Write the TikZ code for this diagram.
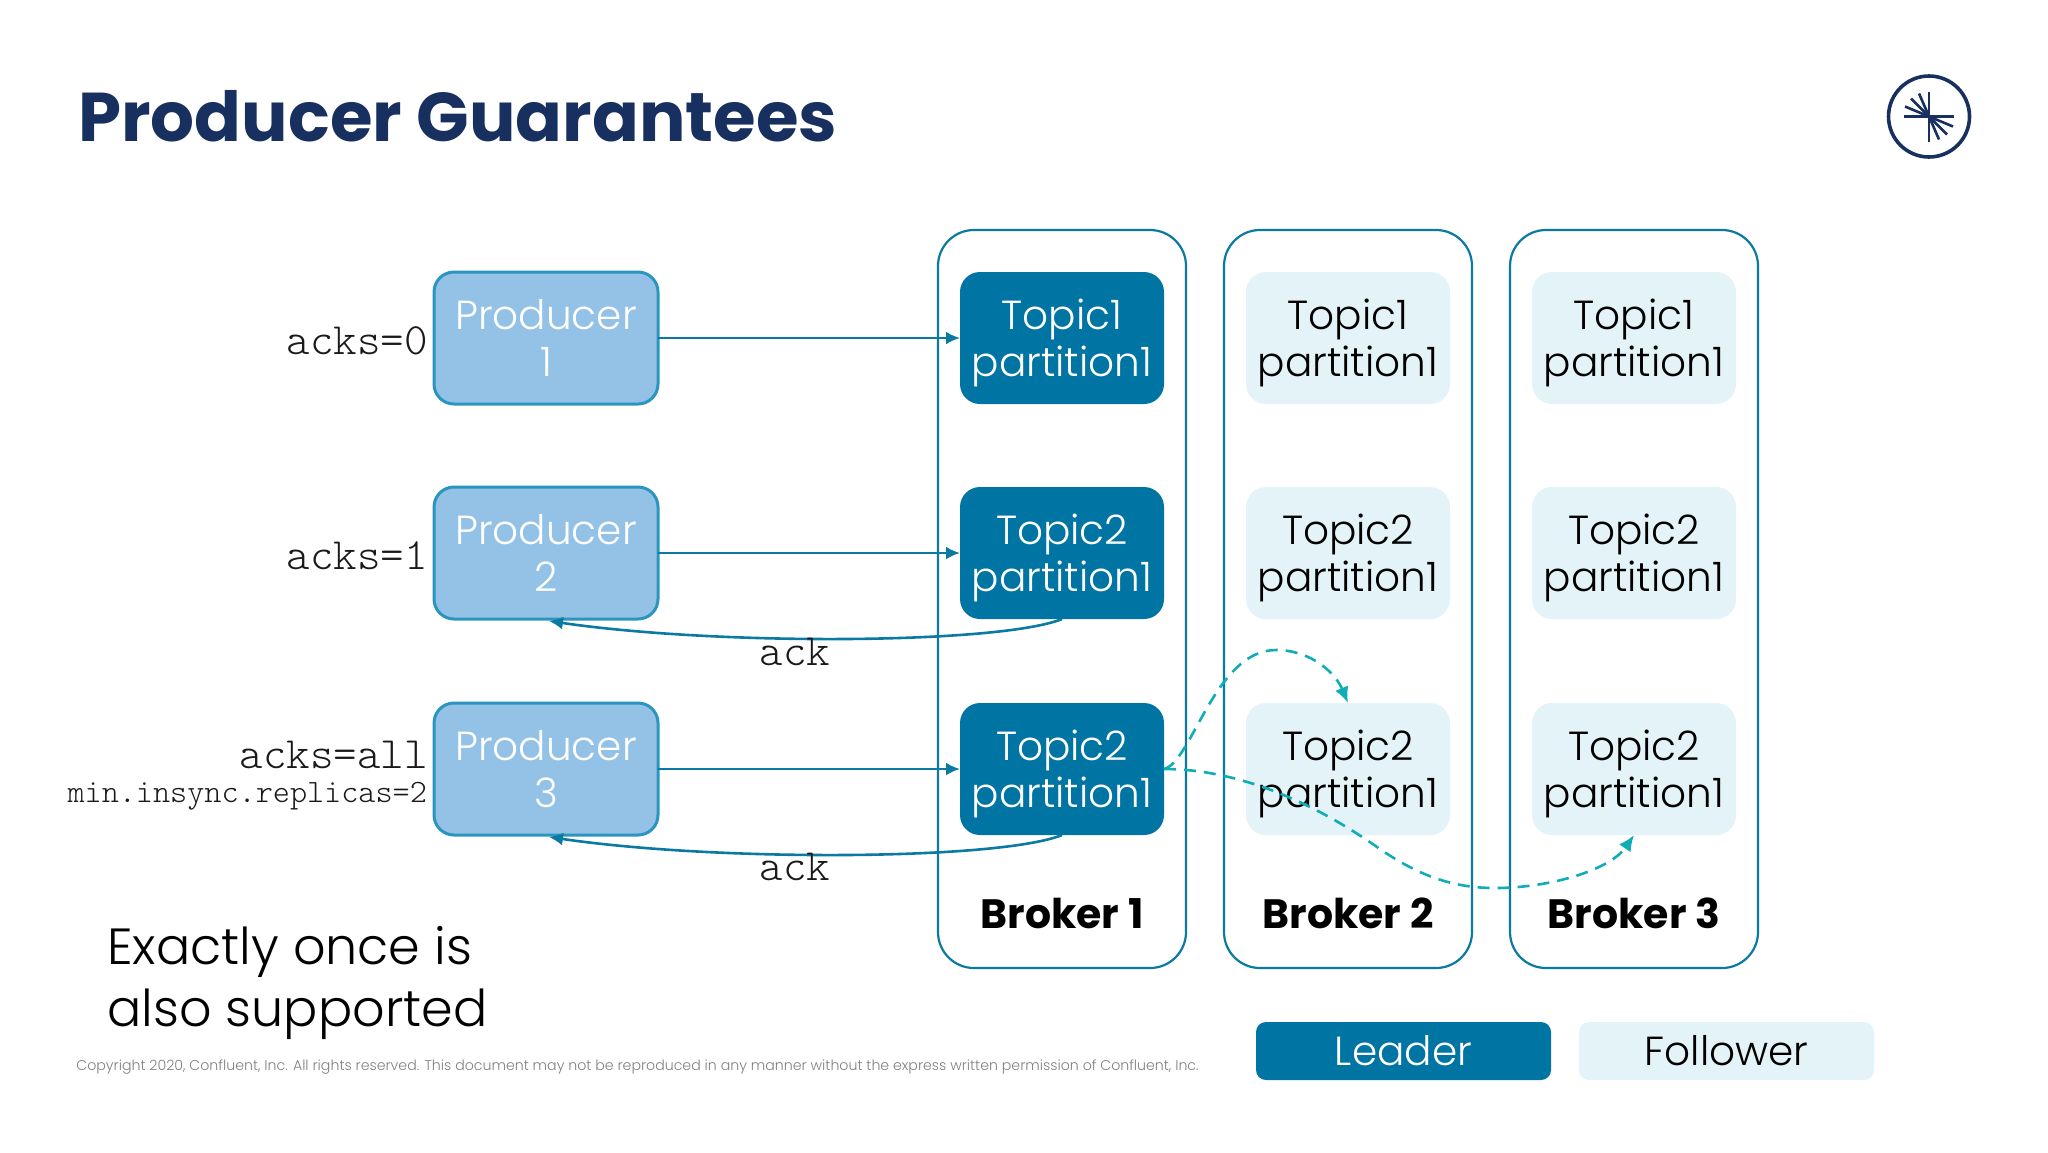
\documentclass[tikz,border=0pt]{standalone}
\usepackage{fontspec}
\setmainfont{Poppins Light}
\newfontfamily\boldfont{Poppins Bold}
\newfontfamily\conffont{Latin Modern Mono Light}
\usetikzlibrary{arrows.meta}
\definecolor{navy}{HTML}{17305F}
\definecolor{leader}{HTML}{0074A2}
\definecolor{follower}{HTML}{E3F3F8}
\definecolor{prodfill}{HTML}{93C2E6}
\definecolor{prodline}{HTML}{2B95C0}
\definecolor{teal}{HTML}{0FADB5}
\definecolor{link}{HTML}{0B7AA3}

\begin{document}
\begin{tikzpicture}[x=0.5pt,y=-0.5pt]
    \tikzstyle{box}=[rounded corners=10pt,minimum width=102pt,minimum height=66pt,inner sep=0pt,outer sep=0pt,align=center,font=\fontsize{20.3}{23.5}\selectfont]
    \tikzstyle{producer}=[box,fill=prodfill,draw=prodline,line width=1.5pt,minimum width=112pt,text=white]
    \tikzstyle{lead}=[box,fill=leader,text=white]
    \tikzstyle{follow}=[box,fill=follower,text=black]
    \tikzstyle{broker}=[draw=link,line width=1.1pt,rounded corners=18pt,minimum width=124pt,minimum height=369pt,inner sep=0pt]
    \tikzstyle{brokername}=[font=\boldfont\fontsize{20.5}{24}\selectfont]
    \tikzstyle{conf}=[anchor=east,font=\conffont\fontsize{22.4}{24}\selectfont,text=black!90]
    \tikzstyle{small conf}=[anchor=east,font=\conffont\fontsize{16.3}{20}\selectfont,text=black!90]
    \tikzstyle{arrow}=[draw=link,line width=1.3pt,-{Latex[length=7pt,width=6.5pt]}]
    \tikzstyle{copy}=[draw=teal,line width=1.3pt,dashed,dash pattern=on 6pt off 4pt,-{Latex[length=8pt,width=7pt]}]
    \tikzstyle{legend}=[rounded corners=5pt,minimum width=147.5pt,minimum height=29pt,inner sep=0pt,font=\fontsize{20.3}{24}\selectfont]
    \tikzstyle{logoline}=[draw=navy,line width=1.3pt]

    \useasboundingbox (0,0) rectangle (2048,1152);

    % Title and logo
    \node[anchor=base west,inner sep=0pt,text=navy,font=\boldfont\fontsize{34.5}{40}\selectfont] (title) at (78,141) {Producer Guarantees};
    \node[circle,draw=navy,line width=1.8pt,minimum size=40.5pt,inner sep=0pt] (logo) at (1929,116.5) {};
    \foreach \dx/\dy in {25/0,-25/0,0/25,0/-25,-24/-10,-18/-18,-10/-23,24/10,18/18,10/23}
        \draw[logoline] (logo.center) -- +(\dx,\dy);

    % Draw the brokers
    \foreach \name/\x in {1/1062,2/1348,3/1634} {
        \node[broker] (B-\name) at (\x,599) {};
        \node[brokername] (BN-\name) at (\x,913) {Broker \name};
    }

    % Draw the producers and partitions of each row
    \foreach \name/\y/\topic in {1/338/1,2/553/2,3/769/2} {
        \node[producer] (P-\name) at (546,\y) {Producer\\\name};
        \node[lead] (L-\name) at (1062,\y) {Topic\topic\\\smash{partition1}};
        \node[follow] (F-\name) at (1348,\y) {Topic\topic\\\smash{partition1}};
        \node[follow] (G-\name) at (1634,\y) {Topic\topic\\\smash{partition1}};
        \draw[arrow] (P-\name) -- (L-\name);
    }

    % Settings beside the producers
    \node[conf] (acks-1) at (435,341) {acks=0};
    \node[conf] (acks-2) at (435,556) {acks=1};
    \node[conf] (acks-3) at (435,755) {acks=all};
    \node[small conf] (minisr) at (434,796) {min.insync.replicas=2};

    % Acknowledgements
    \draw[arrow] (L-2.south) .. controls (1000,644) and (720,646) .. ([xshift=1.5pt,yshift=-1pt]P-2.south);
    \draw[arrow] (L-3.south) .. controls (1000,860) and (720,862) .. ([xshift=1.5pt,yshift=-1pt]P-3.south);
    \node[conf,anchor=center] (ack-2) at (795,652) {ack};
    \node[conf,anchor=center] (ack-3) at (795,867) {ack};

    % Replication
    \coordinate (top) at (1276,650);
    \coordinate (fall) at (1377,847);
    \coordinate (low) at (1495,888);
    \draw[copy] (L-3.east) .. controls (1192,762) and (1215,650) .. (top) .. controls (1310,650) and (1335,672) .. (F-3.north);
    \draw[copy] (L-3.east) .. controls (1235,769) and (1310,800) .. (fall) .. controls (1420,877) and (1455,888) .. (low) .. controls (1550,888) and (1610,870) .. (G-3.south);

    % Note and footer
    \node[anchor=base west,inner sep=0pt,align=left,font=\fontsize{25.4}{31}\selectfont] (note) at (107,1026) {Exactly once is\\also supported};
    \node[anchor=west,inner sep=0pt,text=black!50,font=\fontsize{7.08}{9}\selectfont] (footer) at (76,1067) {Copyright 2020, Confluent, Inc. All rights reserved. This document may not be reproduced in any manner without the express written permission of Confluent, Inc.};

    % Legend
    \node[legend,fill=leader,text=white] (leader) at (1403.5,1051) {Leader};
    \node[legend,fill=follower] (follower) at (1726.5,1051) {Follower};
\end{tikzpicture}
\end{document}
